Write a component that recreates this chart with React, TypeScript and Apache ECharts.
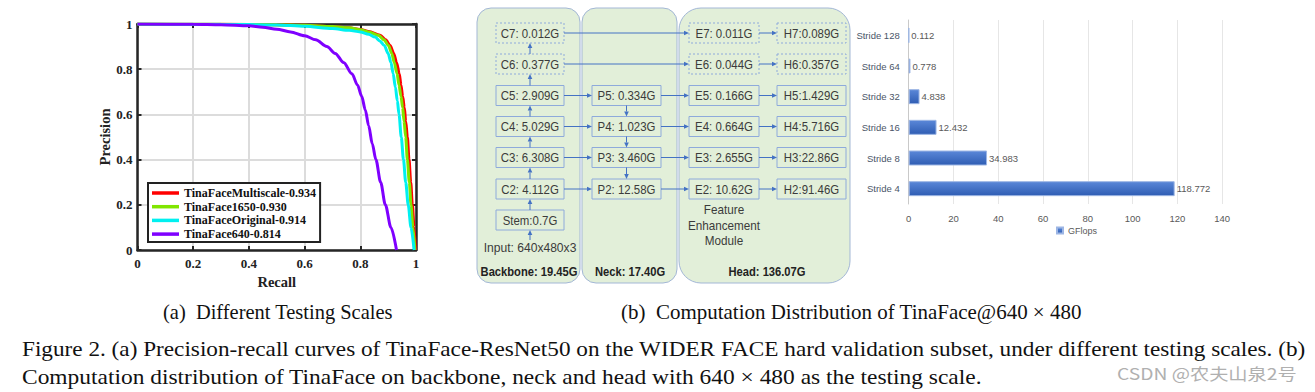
import React, { useEffect, useRef } from "react";
import * as echarts from "echarts";

// ---------- (a) precision-recall curves: [recall, precision] ----------
const seriesNames = [
  "TinaFaceMultiscale-0.934",
  "TinaFace1650-0.930",
  "TinaFaceOriginal-0.914",
  "TinaFace640-0.814",
];
const seriesColors = ["#ff0000", "#80e600", "#00f0f0", "#7f00ff"];

const prMultiscale = [
  [0, 1], [0.3, 0.999], [0.5, 0.997], [0.6, 0.994], [0.7, 0.989], [0.76, 0.983],
  [0.8, 0.976], [0.83, 0.967], [0.871, 0.95], [0.891, 0.93], [0.907, 0.905],
  [0.92, 0.87], [0.93, 0.83], [0.94, 0.78], [0.946, 0.73], [0.952, 0.68],
  [0.958, 0.63], [0.963, 0.57], [0.969, 0.5], [0.975, 0.4], [0.981, 0.3],
  [0.987, 0.2], [0.993, 0.1], [0.998, 0],
];
const pr1650 = [
  [0, 1], [0.3, 0.999], [0.5, 0.997], [0.6, 0.994], [0.7, 0.989], [0.76, 0.983],
  [0.8, 0.975], [0.83, 0.965], [0.865, 0.95], [0.885, 0.93], [0.901, 0.905],
  [0.913, 0.87], [0.922, 0.83], [0.932, 0.78], [0.939, 0.73], [0.946, 0.68],
  [0.952, 0.63], [0.957, 0.57], [0.963, 0.5], [0.969, 0.4], [0.976, 0.3],
  [0.982, 0.2], [0.989, 0.1], [0.996, 0],
];
const prOriginal = [
  [0, 1], [0.3, 0.999], [0.5, 0.996], [0.6, 0.99], [0.7, 0.98], [0.76, 0.972],
  [0.8, 0.965], [0.83, 0.955], [0.853, 0.942], [0.87, 0.925], [0.886, 0.905],
  [0.9, 0.87], [0.91, 0.83], [0.918, 0.78], [0.926, 0.72], [0.933, 0.66],
  [0.939, 0.6], [0.947, 0.5], [0.955, 0.4], [0.963, 0.3], [0.972, 0.2],
  [0.982, 0.1], [0.993, 0],
];
const pr640 = [
  [0, 1], [0.2, 0.999], [0.3, 0.997], [0.4, 0.992], [0.45, 0.986], [0.5, 0.977],
  [0.55, 0.965], [0.6, 0.948], [0.64, 0.93], [0.68, 0.9], [0.71, 0.87],
  [0.74, 0.83], [0.77, 0.78], [0.79, 0.73], [0.805, 0.68], [0.818, 0.62],
  [0.83, 0.55], [0.843, 0.47], [0.856, 0.4], [0.873, 0.3], [0.89, 0.2],
  [0.91, 0.1], [0.93, 0],
];
const prData = [prMultiscale, pr1650, prOriginal, pr640];

// ---------- (b) computation diagram ----------
const backboneLabels = ["C7: 0.012G", "C6: 0.377G", "C5: 2.909G", "C4: 5.029G", "C3: 6.308G", "C2: 4.112G", "Stem:0.7G"];
const neckLabels = ["P5: 0.334G", "P4: 1.023G", "P3: 3.460G", "P2: 12.58G"];
const enhanceLabels = ["E7: 0.011G", "E6: 0.044G", "E5: 0.166G", "E4: 0.664G", "E3: 2.655G", "E2: 10.62G"];
const headLabels = ["H7:0.089G", "H6:0.357G", "H5:1.429G", "H4:5.716G", "H3:22.86G", "H2:91.46G"];
const panelTitles = ["Backbone: 19.45G", "Neck: 17.40G", "Head: 136.07G"];
const inputLabel = "Input: 640x480x3";
const moduleLabel = ["Feature", "Enhancement", "Module"];

// ---------- stride bar chart ----------
const strideCategories = ["Stride 4", "Stride 8", "Stride 16", "Stride 32", "Stride 64", "Stride 128"];
const strideGFlops = [118.772, 34.983, 12.432, 4.838, 0.778, 0.112];

// ---------- captions ----------
const captionA = "(a)  Different Testing Scales";
const captionB = "(b)  Computation Distribution of TinaFace@640 \u00d7 480";
const figLine1 = "Figure 2. (a) Precision-recall curves of TinaFace-ResNet50 on the WIDER FACE hard validation subset, under different testing scales. (b)";
const figLine2 = "Computation distribution of TinaFace on backbone, neck and head with 640 \u00d7 480 as the testing scale.";
const watermark = "CSDN @\u519c\u592b\u5c71\u6cc92\u53f7";

const SERIF = "'Liberation Serif', 'Times New Roman', serif";
const SANS = "'Liberation Sans', Arial, sans-serif";

function measure(text: string, font: string) {
  const c = document.createElement("canvas").getContext("2d");
  if (!c) return 1;
  c.font = font;
  return c.measureText(text).width || 1;
}

function fitText(text: string, x: number, y: number, width: number, size: number, family: string, fill: string, weight = "normal") {
  const w = measure(text, `${weight} ${size}px ${family}`);
  return {
    type: "text",
    x,
    y,
    scaleX: width / w,
    style: { text, fontSize: size, fontFamily: family, fontWeight: weight, fill, align: "left", verticalAlign: "middle" },
  };
}

function buildDiagram() {
  const els: any[] = [];
  const boxStroke = "#8eaadb";
  const arrowColor = "#4472c4";
  const txtColor = "#3b3b3b";
  const panelFill = "#e2efd9";
  const panelStroke = "#a3b7d6";
  const rowCenters = [33, 64, 95.5, 126.5, 157.5, 189, 220];
  const boxH = 20;
  const cols = {
    C: { cx: 530, w: 68 },
    P: { cx: 626.5, w: 69 },
    E: { cx: 724, w: 70 },
    H: { cx: 811.5, w: 69 },
  };
  const panels = [
    { x: 477, w: 103, r: 14, tx: 529 },
    { x: 582, w: 95, r: 14, tx: 630 },
    { x: 679, w: 171, r: 22, tx: 767 },
  ];
  panels.forEach((p, i) => {
    els.push({ type: "rect", shape: { x: p.x, y: 8, width: p.w, height: 275, r: p.r }, style: { fill: panelFill, stroke: panelStroke, lineWidth: 1 }, z: 1 });
    els.push({ type: "text", x: p.tx, y: 272, scaleX: 0.86, style: { text: panelTitles[i], fontSize: 13, fontWeight: "bold", fontFamily: SANS, fill: "#222", align: "center", verticalAlign: "middle" }, z: 3 });
  });
  const box = (col: { cx: number; w: number }, row: number, label: string, dashed: boolean) => {
    const cy = rowCenters[row];
    els.push({
      type: "rect",
      shape: { x: col.cx - col.w / 2, y: cy - boxH / 2, width: col.w, height: boxH },
      style: { fill: "none", stroke: boxStroke, lineWidth: 1, lineDash: dashed ? [2, 2] : null },
      z: 2,
    });
    els.push({ type: "text", x: col.cx, y: cy + 0.5, scaleX: 0.88, style: { text: label, fontSize: 13, fontFamily: SANS, fill: txtColor, align: "center", verticalAlign: "middle" }, z: 3 });
  };
  backboneLabels.forEach((l, i) => box(cols.C, i, l, i < 2));
  neckLabels.forEach((l, i) => box(cols.P, i + 2, l, false));
  enhanceLabels.forEach((l, i) => box(cols.E, i, l, i < 2));
  headLabels.forEach((l, i) => box(cols.H, i, l, i < 2));

  const arrow = (x1: number, y1: number, x2: number, y2: number) => {
    const len = Math.hypot(x2 - x1, y2 - y1);
    const ux = (x2 - x1) / len, uy = (y2 - y1) / len;
    const hl = 5, hw = 2.3;
    const bx = x2 - ux * hl, by = y2 - uy * hl;
    els.push({ type: "line", shape: { x1, y1, x2: bx, y2: by }, style: { stroke: arrowColor, lineWidth: 1 }, z: 4 });
    els.push({ type: "polygon", shape: { points: [[x2, y2], [bx - uy * hw, by + ux * hw], [bx + uy * hw, by - ux * hw]] }, style: { fill: arrowColor }, z: 4 });
  };
  const right = (c: { cx: number; w: number }) => c.cx + c.w / 2;
  const left = (c: { cx: number; w: number }) => c.cx - c.w / 2;
  // backbone upward arrows
  for (let r = 6; r >= 1; r--) arrow(cols.C.cx, rowCenters[r] - boxH / 2, cols.C.cx, rowCenters[r - 1] + boxH / 2);
  arrow(cols.C.cx, 240, cols.C.cx, rowCenters[6] + boxH / 2);
  // horizontal arrows
  for (let r = 0; r < 6; r++) {
    const cy = rowCenters[r];
    if (r < 2) arrow(right(cols.C), cy, left(cols.E), cy);
    else {
      arrow(right(cols.C), cy, left(cols.P), cy);
      arrow(right(cols.P), cy, left(cols.E), cy);
    }
    arrow(right(cols.E), cy, left(cols.H), cy);
  }
  // neck downward arrows
  for (let r = 2; r < 5; r++) arrow(cols.P.cx, rowCenters[r] + boxH / 2, cols.P.cx, rowCenters[r + 1] - boxH / 2);

  els.push({ type: "text", x: 530, y: 248, scaleX: 0.93, style: { text: inputLabel, fontSize: 13, fontFamily: SANS, fill: txtColor, align: "center", verticalAlign: "middle" }, z: 3 });
  moduleLabel.forEach((t, i) => {
    els.push({ type: "text", x: 724, y: 210 + i * 15.5, scaleX: 0.9, style: { text: t, fontSize: 13, fontFamily: SANS, fill: txtColor, align: "center", verticalAlign: "middle" }, z: 3 });
  });
  return els;
}

export default function App() {
  const ref = useRef<HTMLDivElement>(null);
  useEffect(() => {
    document.body.style.margin = "0";
    if (!ref.current) return;
    const chart = echarts.init(ref.current, null, { renderer: "svg" });
    const prAxisLine = { onZero: false, lineStyle: { color: "#262626", width: 2.5 } };
    const prTick = { inside: true, length: 4, lineStyle: { color: "#262626", width: 2 } };
    const prLabel = { fontFamily: SERIF, fontWeight: "bold", fontSize: 13, color: "#222" };
    const barText = { fontFamily: SANS, fontSize: 9.5, color: "#595959" };

    const graphics: any[] = [
      ...buildDiagram(),
      fitText(captionA, 163, 312, 230, 20, SERIF, "#111"),
      fitText(captionB, 621, 312, 461, 20, SERIF, "#111"),
      fitText(figLine1, 22, 349, 1285, 21, SERIF, "#111"),
      fitText(figLine2, 22, 377, 960, 21, SERIF, "#111"),
      fitText(watermark, 1117, 373, 180, 16, "'Noto Sans CJK SC', sans-serif", "#b0b0b0"),
    ];

    chart.setOption({
      animation: false,
      backgroundColor: "#ffffff",
      grid: [
        { left: 137.5, top: 24, width: 278.5, height: 226 },
        { left: 908.7, top: 20, width: 313.5, height: 184 },
      ],
      xAxis: [
        {
          gridIndex: 0, type: "value", min: 0, max: 1, interval: 0.2, position: "bottom",
          name: "Recall", nameLocation: "middle", nameGap: 24,
          nameTextStyle: { fontFamily: SERIF, fontWeight: "bold", fontSize: 14.5, color: "#222" },
          axisLine: prAxisLine, axisTick: prTick, axisLabel: { ...prLabel, margin: 7 },
          splitLine: { lineStyle: { color: "#dcdcdc", width: 2 } },
        },
        {
          gridIndex: 0, type: "value", min: 0, max: 1, interval: 0.2, position: "top",
          axisLine: prAxisLine, axisTick: prTick, axisLabel: { show: false }, splitLine: { show: false },
        },
        {
          gridIndex: 1, type: "value", min: 0, max: 140, interval: 20,
          axisLine: { show: false }, axisTick: { show: false },
          axisLabel: { ...barText, fontSize: 9.5, margin: 9 },
          splitLine: { lineStyle: { color: "#e6e6e6", width: 1 } },
        },
      ],
      yAxis: [
        {
          gridIndex: 0, type: "value", min: 0, max: 1, interval: 0.2, position: "left",
          name: "Precision", nameLocation: "middle", nameGap: 24, nameRotate: 90,
          nameTextStyle: { fontFamily: SERIF, fontWeight: "bold", fontSize: 14.5, color: "#222" },
          axisLine: prAxisLine, axisTick: prTick, axisLabel: { ...prLabel, margin: 5 },
          splitLine: { lineStyle: { color: "#dcdcdc", width: 2 } },
        },
        {
          gridIndex: 0, type: "value", min: 0, max: 1, interval: 0.2, position: "right",
          axisLine: prAxisLine, axisTick: prTick, axisLabel: { show: false }, splitLine: { show: false },
        },
        {
          gridIndex: 1, type: "category", data: strideCategories,
          axisLine: { show: true, lineStyle: { color: "#c9c9c9", width: 1 } },
          axisTick: { show: false },
          axisLabel: { ...barText, color: "#4a5568", margin: 9 },
        },
      ],
      legend: [
        {
          data: seriesNames, orient: "vertical", left: 148, top: 183, icon: "rect",
          itemWidth: 27, itemHeight: 3.5, itemGap: 1.7, padding: [4, 4, 2, 4],
          borderColor: "#222", borderWidth: 2, backgroundColor: "#fff",
          textStyle: { fontFamily: SERIF, fontWeight: "bold", fontSize: 12, lineHeight: 12, color: "#111" },
        },
        {
          data: ["GFlops"], left: 1051, top: 221, icon: "rect", itemWidth: 6, itemHeight: 6,
          textStyle: { ...barText, fontSize: 9 },
        },
      ],
      series: [
        ...prData.map((d, i) => ({
          type: "line", name: seriesNames[i], xAxisIndex: 0, yAxisIndex: 0, data: d,
          symbol: "none", smooth: 0.3, smoothMonotone: "x",
          lineStyle: { width: 3, color: seriesColors[i] }, itemStyle: { color: seriesColors[i] },
        })),
        {
          type: "bar", name: "GFlops", xAxisIndex: 2, yAxisIndex: 2, data: strideGFlops, barWidth: 15,
          itemStyle: {
            color: new echarts.graphic.LinearGradient(0, 0, 0, 1, [
              { offset: 0, color: "#5a87d8" },
              { offset: 1, color: "#2f5db3" },
            ]),
            borderColor: "#9db6e4", borderWidth: 1,
          },
          label: { show: true, position: "right", distance: 2, ...barText, formatter: (p: any) => Number(p.value).toFixed(3) },
        },
      ],
      graphic: graphics,
    });
    return () => chart.dispose();
  }, []);
  return <div ref={ref} style={{ width: 1315, height: 392 }} />;
}
